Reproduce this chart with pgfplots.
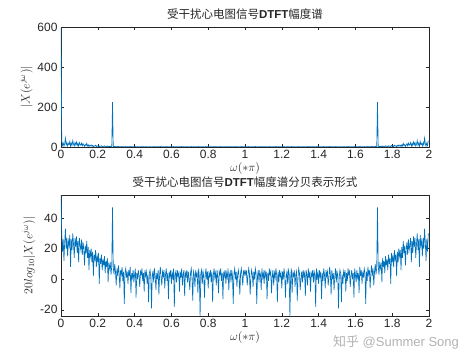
\documentclass[border=0pt]{standalone}
\usepackage{pgfplots}
\pgfplotsset{compat=1.18}
\usepackage{pgfplotstable}
\usepackage{fontspec}
\setmainfont{Liberation Sans}
\newfontfamily\cjk{Noto Sans CJK SC}
\definecolor{mblue}{rgb}{0,0.447,0.741}
\definecolor{axgray}{rgb}{0.15,0.15,0.15}

\pgfplotstableread[row sep=\\]{
x y\\
0.004 30\\ 0.008 18\\ 0.012 26\\ 0.016 12\\ 0.020 24\\ 0.024 33\\ 0.028 20\\ 0.032 27\\ 0.036 15\\
0.040 25\\ 0.044 22\\ 0.048 29\\ 0.052 8\\ 0.056 26\\ 0.060 19\\ 0.064 30\\ 0.068 23\\ 0.072 14\\ 0.076 27\\
0.080 21\\ 0.084 28\\ 0.088 17\\ 0.092 25\\ 0.096 11\\ 0.100 27\\ 0.104 22\\ 0.108 19\\ 0.112 26\\ 0.116 16\\
0.120 24\\ 0.124 20\\ 0.128 9\\ 0.132 22\\ 0.136 17\\ 0.140 25\\ 0.144 14\\ 0.148 21\\ 0.152 6\\ 0.156 19\\
0.160 15\\ 0.164 20\\ 0.168 11\\ 0.172 18\\ 0.176 2\\ 0.180 16\\ 0.184 13\\ 0.188 19\\ 0.192 8\\ 0.196 15\\
0.200 12\\ 0.204 17\\ 0.208 -3\\ 0.212 14\\ 0.216 10\\ 0.220 16\\ 0.224 6\\ 0.228 13\\ 0.232 9\\ 0.236 15\\
0.240 4\\ 0.244 12\\ 0.248 8\\ 0.252 14\\ 0.256 -2\\ 0.260 11\\ 0.264 7\\ 0.268 10\\ 0.272 3\\ 0.276 9\\
0.280 47\\
0.284 8\\ 0.288 3\\ 0.292 10\\ 0.296 5\\ 0.300 -4\\ 0.304 7\\ 0.308 2\\ 0.312 9\\ 0.316 4\\
0.320 -6\\ 0.324 6\\ 0.328 3\\ 0.332 8\\ 0.336 -1\\ 0.340 5\\ 0.344 -16\\ 0.348 4\\ 0.352 7\\ 0.356 1\\
0.360 5\\ 0.364 -3\\ 0.368 6\\ 0.372 2\\ 0.376 8\\ 0.380 -9\\ 0.384 4\\ 0.388 1\\ 0.392 6\\ 0.396 -2\\
0.400 3\\ 0.404 7\\ 0.408 -12\\ 0.412 4\\ 0.416 0\\ 0.420 6\\ 0.424 2\\ 0.428 -5\\ 0.432 5\\ 0.436 3\\
0.440 7\\ 0.444 -1\\ 0.448 4\\ 0.452 -8\\ 0.456 6\\ 0.460 2\\ 0.464 5\\ 0.468 -3\\ 0.472 3\\ 0.476 -15\\
0.480 4\\ 0.484 6\\ 0.488 1\\ 0.492 -19\\ 0.496 3\\ 0.500 5\\ 0.504 -2\\ 0.508 7\\ 0.512 2\\ 0.516 -7\\
0.520 4\\ 0.524 0\\ 0.528 6\\ 0.532 -10\\ 0.536 3\\ 0.540 8\\ 0.544 1\\ 0.548 -4\\ 0.552 5\\ 0.556 2\\
0.560 6\\ 0.564 -6\\ 0.568 3\\ 0.572 7\\ 0.576 -1\\ 0.580 4\\ 0.584 -13\\ 0.588 5\\ 0.592 2\\ 0.596 6\\
0.600 -3\\ 0.604 4\\ 0.608 1\\ 0.612 7\\ 0.616 -18\\ 0.620 3\\ 0.624 5\\ 0.628 -2\\ 0.632 6\\ 0.636 2\\
0.640 4\\ 0.644 -8\\ 0.648 5\\ 0.652 1\\ 0.656 7\\ 0.660 -4\\ 0.664 3\\ 0.668 6\\ 0.672 -11\\ 0.676 4\\
0.680 2\\ 0.684 6\\ 0.688 -2\\ 0.692 5\\ 0.696 0\\ 0.700 -7\\ 0.704 4\\ 0.708 7\\ 0.712 1\\ 0.716 -14\\
0.720 5\\ 0.724 3\\ 0.728 -5\\ 0.732 6\\ 0.736 2\\ 0.740 4\\ 0.744 -9\\ 0.748 7\\ 0.752 1\\ 0.756 -24\\
0.760 4\\ 0.764 6\\ 0.768 -3\\ 0.772 5\\ 0.776 2\\ 0.780 -12\\ 0.784 3\\ 0.788 7\\ 0.792 0\\ 0.796 5\\
0.800 -6\\ 0.804 4\\ 0.808 2\\ 0.812 6\\ 0.816 -2\\ 0.820 5\\ 0.824 -15\\ 0.828 3\\ 0.832 7\\ 0.836 1\\
0.840 4\\ 0.844 -4\\ 0.848 6\\ 0.852 2\\ 0.856 -9\\ 0.860 5\\ 0.864 3\\ 0.868 7\\ 0.872 -1\\ 0.876 4\\
0.880 -13\\ 0.884 5\\ 0.888 2\\ 0.892 6\\ 0.896 -3\\ 0.900 4\\ 0.904 1\\ 0.908 7\\ 0.912 -7\\ 0.916 3\\
0.920 5\\ 0.924 -2\\ 0.928 6\\ 0.932 2\\ 0.936 -16\\ 0.940 4\\ 0.944 7\\ 0.948 0\\ 0.952 5\\ 0.956 -5\\
0.960 3\\ 0.964 6\\ 0.968 1\\ 0.972 -10\\ 0.976 4\\ 0.980 7\\ 0.984 2\\ 0.988 -4\\ 0.992 5\\ 0.996 3\\
1.000 6\\
}\dtft

\pgfplotsset{
  mstyle/.style={
    scale only axis, width=368pt,
    xmin=0, xmax=2,
    xtick={0,0.2,0.4,0.6,0.8,1,1.2,1.4,1.6,1.8,2},
    xticklabels={0,0.2,0.4,0.6,0.8,1,1.2,1.4,1.6,1.8,2},
    tick align=inside, major tick length=3pt,
    axis line style={axgray, line width=0.5pt},
    every tick/.style={axgray, line width=0.5pt},
    tick label style={font=\fontsize{12}{14}\selectfont, text=axgray},
    /pgf/number format/assume math mode=true,
    label style={font=\fontsize{11.5}{13}\selectfont, text=axgray},
    title style={font=\fontsize{11.5}{13}\selectfont, text=axgray, yshift=-2pt},
    xlabel={$\omega(*\pi)$},
    xlabel style={yshift=3pt},
    clip=true,
  },
  mline/.style={mblue, line width=0.65pt, no marks},
}

\begin{document}
\begin{tikzpicture}
\useasboundingbox (0,0) rectangle (474pt,355pt);
\begin{axis}[mstyle, at={(61pt,208pt)}, anchor=south west, height=120pt,
  ymin=0, ymax=600, ytick={0,200,400,600},
  title={{\cjk 受干扰心电图信号}\textbf{DTFT}{\cjk 幅度谱}},
  ylabel={$|X(e^{j\omega})|$}, ylabel style={yshift=-2pt}]
\addplot[mline] coordinates {(0,596) (0.004,31.6)};
\addplot[mline] table[x=x, y expr={10^(\thisrow{y}/20)}] {\dtft};
\addplot[mline] table[x expr={2-\thisrow{x}}, y expr={10^(\thisrow{y}/20)}] {\dtft};
\end{axis}
\begin{axis}[mstyle, at={(61pt,39pt)}, anchor=south west, height=121pt,
  ymin=-24, ymax=55, ytick={-20,0,20,40},
  title={{\cjk 受干扰心电图信号}\textbf{DTFT}{\cjk 幅度谱分贝表示形式}},
  ylabel={$20log_{10}|X(e^{j\omega})|$}, ylabel style={yshift=-2pt}]
\addplot[mline] coordinates {(0,55.5) (0.004,30)};
\addplot[mline] table[x=x, y=y] {\dtft};
\addplot[mline] table[x expr={2-\thisrow{x}}, y=y] {\dtft};
\end{axis}
\node[text=black!30, font=\fontsize{13}{15}\selectfont] at (396pt,13pt) {{\cjk 知乎} @Summer Song};
\end{tikzpicture}
\end{document}
